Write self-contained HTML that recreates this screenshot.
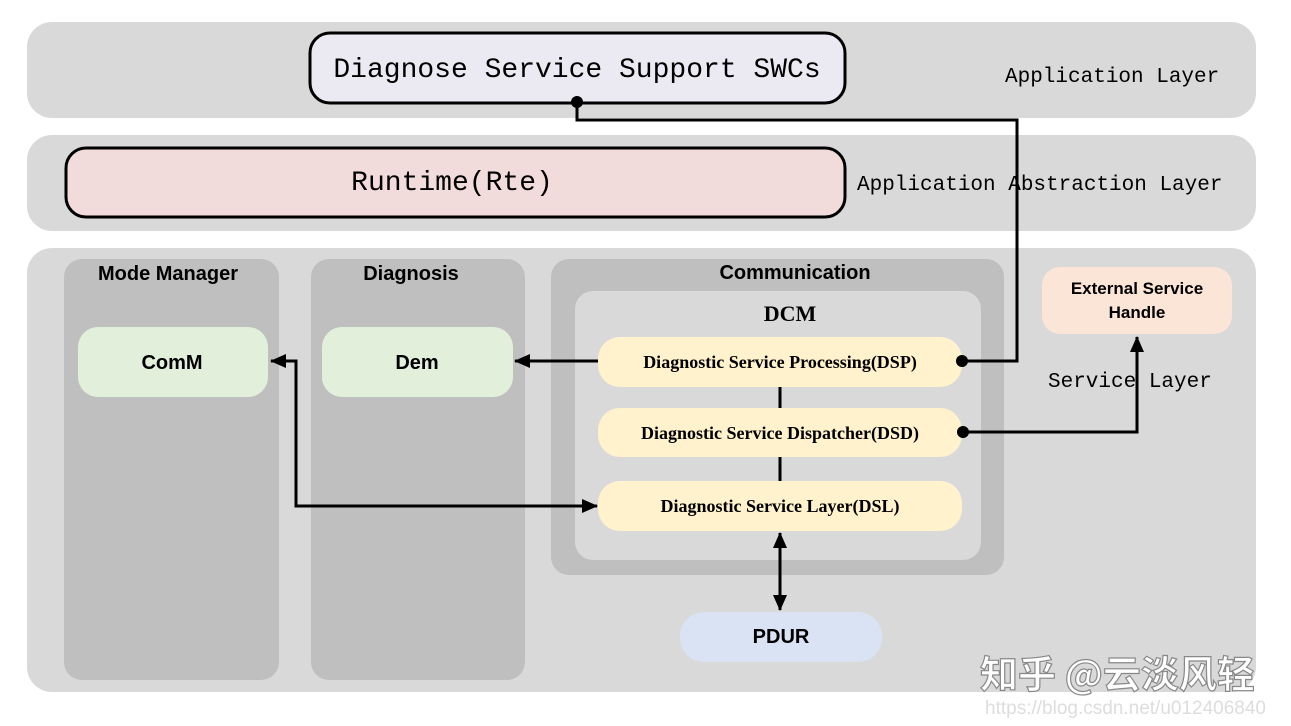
<!DOCTYPE html>
<html><head><meta charset="utf-8"><style>
html,body{margin:0;padding:0;background:#fff;}
svg{display:block}
.m{font-family:"Liberation Mono",monospace;}
.s{font-family:"Liberation Sans","DejaVu Sans",sans-serif;font-weight:bold;}
.t{font-family:"Liberation Serif",serif;font-weight:bold;}
</style></head><body>
<svg width="1291" height="726" viewBox="0 0 1291 726" xmlns="http://www.w3.org/2000/svg">
<defs>
<marker id="a" markerWidth="16" markerHeight="16" refX="15" refY="8" orient="auto" markerUnits="userSpaceOnUse"><path d="M0,1 L16,8 L0,15 z" fill="#000"/></marker>
<marker id="as" markerWidth="16" markerHeight="16" refX="1" refY="8" orient="auto" markerUnits="userSpaceOnUse"><path d="M16,1 L0,8 L16,15 z" fill="#000"/></marker>
</defs>
<rect x="27" y="22" width="1229" height="96" rx="25" fill="#d9d9d9"/>
<rect x="27" y="135" width="1229" height="96" rx="25" fill="#d9d9d9"/>
<rect x="27" y="248" width="1229" height="444" rx="25" fill="#d9d9d9"/>

<rect x="310" y="33" width="535" height="70" rx="20" fill="#ebeaf2" stroke="#000" stroke-width="3"/>
<text x="577" y="77" class="m" font-size="28" text-anchor="middle">Diagnose Service Support SWCs</text>
<text x="1005" y="82" class="m" font-size="21">Application Layer</text>

<rect x="66" y="148" width="779" height="69" rx="20" fill="#f2dcdb" stroke="#000" stroke-width="3"/>
<text x="452" y="190" class="m" font-size="28" text-anchor="middle">Runtime(Rte)</text>
<text x="857" y="190" class="m" font-size="21">Application Abstraction Layer</text>

<rect x="64" y="259" width="215" height="421" rx="18" fill="#bfbfbf"/>
<rect x="311" y="259" width="214" height="421" rx="18" fill="#bfbfbf"/>
<rect x="551" y="259" width="453" height="316" rx="18" fill="#bfbfbf"/>
<rect x="575" y="291" width="406" height="269" rx="18" fill="#d9d9d9"/>
<text x="168" y="280" class="s" font-size="20" text-anchor="middle">Mode Manager</text>
<text x="411" y="280" class="s" font-size="20" text-anchor="middle">Diagnosis</text>
<text x="795" y="279" class="s" font-size="20" text-anchor="middle">Communication</text>
<text x="790" y="321" class="t" font-size="22" text-anchor="middle">DCM</text>

<rect x="78" y="327" width="190" height="70" rx="20" fill="#e2efda"/>
<text x="172" y="369" class="s" font-size="20" text-anchor="middle">ComM</text>
<rect x="322" y="327" width="191" height="70" rx="20" fill="#e2efda"/>
<text x="417" y="369" class="s" font-size="20" text-anchor="middle">Dem</text>

<rect x="598" y="337" width="364" height="50" rx="22" fill="#fff2cc"/>
<text x="780" y="368" class="t" font-size="18" text-anchor="middle">Diagnostic Service Processing(DSP)</text>
<rect x="598" y="408" width="364" height="49" rx="22" fill="#fff2cc"/>
<text x="780" y="439" class="t" font-size="18" text-anchor="middle">Diagnostic Service Dispatcher(DSD)</text>
<rect x="598" y="481" width="364" height="50" rx="22" fill="#fff2cc"/>
<text x="780" y="512" class="t" font-size="18" text-anchor="middle">Diagnostic Service Layer(DSL)</text>

<rect x="680" y="612" width="202" height="50" rx="24" fill="#dae3f3"/>
<text x="781" y="643" class="s" font-size="20" text-anchor="middle">PDUR</text>

<rect x="1042" y="267" width="190" height="67" rx="18" fill="#fbe5d6"/>
<text x="1137" y="294" class="s" font-size="17" text-anchor="middle">External Service</text>
<text x="1137" y="318" class="s" font-size="17" text-anchor="middle">Handle</text>
<text x="1048" y="387" class="m" font-size="21">Service Layer</text>

<g stroke="#000" stroke-width="3" fill="none">
<path d="M577,102 V120 H1017 V361 H962"/>
<path d="M963,432 H1137 V337" marker-end="url(#a)"/>
<path d="M598,361 H515" marker-end="url(#a)"/>
<path d="M780,387 V408 M780,457 V481"/>
<path d="M271,361 H296 V506 H597" marker-start="url(#as)" marker-end="url(#a)"/>
<path d="M780,533 V610" marker-start="url(#as)" marker-end="url(#a)"/>
</g>
<circle cx="577" cy="102" r="6" fill="#000"/>
<circle cx="962" cy="361" r="6" fill="#000"/>
<circle cx="963" cy="432" r="6" fill="#000"/>

<text x="980" y="688" font-family="'Noto Sans CJK SC',sans-serif" font-size="38" font-weight="bold" fill="#fff" stroke="#888" stroke-width="1.2">知乎 @云淡风轻</text>
<text x="985" y="714" font-family="'Liberation Sans',sans-serif" font-size="19" fill="#ddd">https://blog.csdn.net/u012406840</text>
</svg>
</body></html>
